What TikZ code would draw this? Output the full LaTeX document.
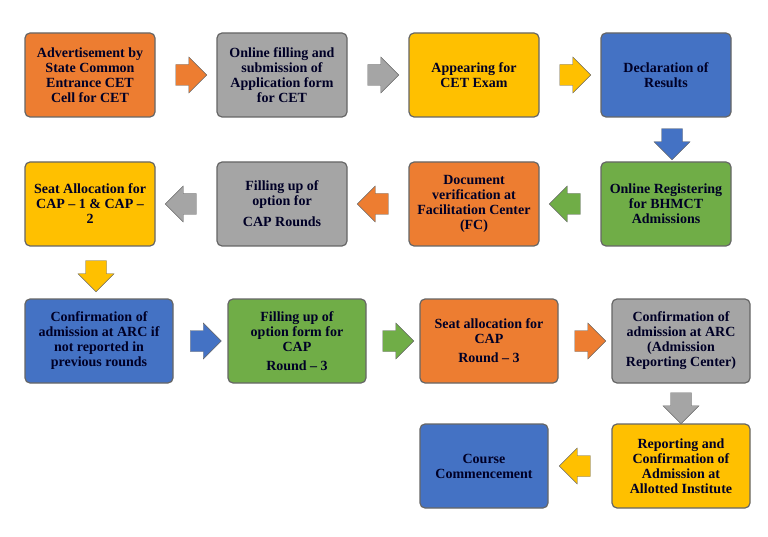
\documentclass[tikz,border=0pt]{standalone}
\usepackage{fontspec}
\setmainfont{Liberation Serif}
\usetikzlibrary{shapes.arrows,calc}
\definecolor{cOrange}{HTML}{ED7D31}
\definecolor{cGray}{HTML}{A5A5A5}
\definecolor{cGold}{HTML}{FFC000}
\definecolor{cBlue}{HTML}{4472C4}
\definecolor{cGreen}{HTML}{70AD47}
\tikzset{
	step/.style={draw=black!60, line width=1.2pt, rounded corners=5pt, fill=#1, minimum width=130pt, minimum height=84pt, align=center, font=\bfseries\fontsize{14}{15}\selectfont, text=black!85!blue},
	flow/.style={single arrow, draw=black!60, fill=#1, minimum width=36pt, single arrow head extend=3pt, minimum height=31pt, inner sep=4pt}
}
\begin{document}
\begin{tikzpicture}[x=1pt, y=-1pt]
	\useasboundingbox (0,0) rectangle (768,537);
	% first row
	\node[step=cOrange] (advert) at (90,75) {Advertisement by\\ State Common\\ Entrance CET\\ Cell for CET};
	\node[step=cGray] (online) at (282,75) {Online filling and\\ submission of\\ Application form\\ for CET};
	\node[step=cGold] (exam) at (474,75) {Appearing for\\ CET Exam};
	\node[step=cBlue] (result) at (666,75) {Declaration of\\ Results};
	% second row
	\node[step=cGreen] (register) at (666,204) {Online Registering\\ for BHMCT\\ Admissions};
	\node[step=cOrange] (verify) at (474,204) {Document\\ verification at\\ Facilitation Center\\ (FC)};
	\node[step=cGray] (option) at (282,204) {Filling up of\\ option for\\[6pt] CAP Rounds};
	\node[step=cGold] (seat) at (90,204) {Seat Allocation for\\ CAP -- 1 \& CAP --\\ 2};
	% third row
	\node[step=cBlue, minimum width=148pt] (confirm) at (99,341) {Confirmation of\\ admission at ARC if\\ not reported in\\ previous rounds};
	\node[step=cGreen, minimum width=138pt] (optthree) at (297,341) {Filling up of\\ option form for\\ CAP\\[4pt] Round -- 3};
	\node[step=cOrange, minimum width=138pt] (seatthree) at (489,341) {Seat allocation for\\ CAP\\[4pt] Round -- 3};
	\node[step=cGray, minimum width=138pt] (arc) at (681,341) {Confirmation of\\ admission at ARC\\ (Admission\\ Reporting Center)};
	% last row
	\node[step=cGold, minimum width=138pt] (report) at (681,466) {Reporting and\\ Confirmation of\\ Admission at\\ Allotted Institute};
	\node[step=cBlue, minimum width=128pt] (course) at (484,466) {Course\\ Commencement};
	% arrows
	\node[flow=cOrange] (a1) at ($(advert)!0.5!(online)$) {};
	\node[flow=cGray] (a2) at ($(online)!0.5!(exam)$) {};
	\node[flow=cGold] (a3) at ($(exam)!0.5!(result)$) {};
	\node[flow=cBlue, rotate=-90] (a4) at (672,139) {};
	\node[flow=cGreen, rotate=180] (a5) at ($(register)!0.5!(verify)$) {};
	\node[flow=cOrange, rotate=180] (a6) at ($(verify)!0.5!(option)$) {};
	\node[flow=cGray, rotate=180] (a7) at ($(option)!0.5!(seat)$) {};
	\node[flow=cGold, rotate=-90] (a8) at (96,271) {};
	\node[flow=cBlue] (a9) at ($(confirm.east)!0.5!(optthree.west)$) {};
	\node[flow=cGreen] (a10) at ($(optthree.east)!0.5!(seatthree.west)$) {};
	\node[flow=cOrange] (a11) at ($(seatthree.east)!0.5!(arc.west)$) {};
	\node[flow=cGray, rotate=-90] (a12) at (681,403) {};
	\node[flow=cGold, rotate=180] (a13) at ($(report.west)!0.5!(course.east)$) {};
\end{tikzpicture}
\end{document}
